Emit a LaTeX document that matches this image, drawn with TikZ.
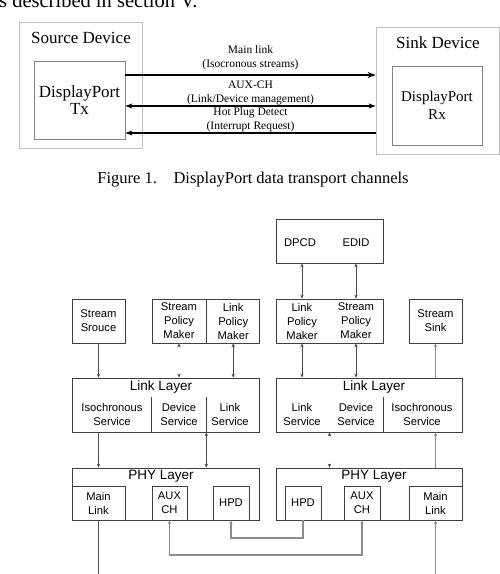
\documentclass[tikz,border=0pt]{standalone}
\usepackage{fontspec}
\setmainfont{Liberation Serif}
\setsansfont{Liberation Sans}
\usetikzlibrary{arrows.meta,positioning}

\tikzset{
  devbox/.style={draw=black!25, line width=0.8pt, inner sep=0pt},
  portbox/.style={draw=black!50, line width=0.8pt, inner sep=0pt, align=center},
  chan/.style={line width=1.2pt, >={Stealth[length=7pt,width=5pt]}},
  chanlbl/.style={font=\fontsize{11.5}{14}\selectfont, align=center, inner sep=0.5pt},
  blk/.style={draw=black!75, line width=0.7pt, inner sep=0pt, align=center,
              font=\sffamily\fontsize{11.2}{14}\selectfont},
  txt/.style={inner sep=0pt, align=center, font=\sffamily\fontsize{11.2}{14}\selectfont},
  ttl/.style={inner sep=0pt, font=\sffamily\fontsize{13.5}{16}\selectfont},
  link/.style={color=black!70, line width=0.7pt},
  glink/.style={color=black!45, line width=1.2pt}
}

\begin{document}
\begin{tikzpicture}[x=1pt,y=-1pt,>={Stealth[length=4pt,width=3.4pt]}]
\useasboundingbox (0,0) rectangle (500,574);

% text of the page above the figures
\node[anchor=base west, inner sep=0pt, font=\fontsize{20.5}{24}\selectfont] (prev) at (-1,7) {s described in section V.};

% Figure 1
\node[devbox, minimum width=123pt, minimum height=126pt] (srcdev) at (80.5,85) {};
\node[inner sep=0pt, font=\fontsize{17}{20}\selectfont] (srcname) at (81,38) {Source Device};
\node[portbox, minimum width=91pt, minimum height=78pt, font=\fontsize{17}{17}\selectfont] (tx) at (79.5,100) {DisplayPort\\Tx};

\node[devbox, minimum width=123pt, minimum height=127pt] (snkdev) at (437.5,90.5) {};
\node[inner sep=0pt, font=\fontsize{17}{20}\selectfont] (snkname) at (438,43) {Sink Device};
\node[portbox, minimum width=90pt, minimum height=79pt, font=\fontsize{15}{18}\selectfont] (rx) at (437,105.5) {DisplayPort\\Rx};

\coordinate (mainrow) at (0,75);
\coordinate (auxrow) at (0,106);
\coordinate (hpdrow) at (0,133);

\draw[chan, line width=2.3pt, ->, >={Stealth[length=8pt,width=6pt]}] (tx.east |- mainrow) -- node[chanlbl, above=3pt] {Main link\\(Isocronous streams)} (snkdev.west |- mainrow);
\draw[chan, <->] (tx.east |- auxrow) -- node[chanlbl, above=0pt] {AUX-CH\\(Link/Device management)} (snkdev.west |- auxrow);
\draw[chan, ->] (snkdev.west |- hpdrow) -- node[chanlbl, above=0pt] {Hot Plug Detect\\(Interrupt Request)} (tx.east |- hpdrow);

\node[font=\fontsize{16.5}{20}\selectfont] (cap1) at (253,180) {Figure 1.\quad DisplayPort data transport channels};

% Figure 2
\node[blk, minimum width=107pt, minimum height=44pt] (regs) at (329.5,241) {};
\node[txt] (dpcd) at (300,243) {DPCD};
\node[txt] (edid) at (356,243) {EDID};

\node[blk, minimum width=53pt, minimum height=44pt] (ssrc) at (98.5,321) {Stream\\Srouce};
\node[blk, minimum width=54pt, minimum height=44pt] (spm1) at (179,321) {Stream\\Policy\\Maker};
\node[blk, minimum width=53pt, minimum height=44pt, right=0pt of spm1] (lpm1) {Link\\Policy\\Maker};

\node[blk, minimum width=107pt, minimum height=44pt] (rpol) at (329.5,321) {};
\node[txt] (lpm2) at (302,321) {Link\\Policy\\Maker};
\node[txt] (spm2) at (356,321) {Stream\\Policy\\Maker};
\node[blk, minimum width=53pt, minimum height=44pt] (ssink) at (435.5,321) {Stream\\Sink};

% link layers
\node[blk, minimum width=187pt, minimum height=54pt] (llay1) at (165.5,405) {};
\node[ttl] (llt1) at (161,387) {Link Layer};
\node[txt] (iso1) at (112,414) {Isochronous\\Service};
\node[txt] (dev1) at (179,414) {Device\\Service};
\node[txt] (lnk1) at (230,414) {Link\\Service};

\node[blk, minimum width=186pt, minimum height=54pt] (llay2) at (369,405) {};
\node[ttl] (llt2) at (374,387) {Link Layer};
\node[txt] (lnk2) at (302,414) {Link\\Service};
\node[txt] (dev2) at (356,414) {Device\\Service};
\node[txt] (iso2) at (422,414) {Isochronous\\Service};

\coordinate (divtop) at (0,397);
\draw[black!75, line width=0.7pt] (spm1.west |- divtop) -- (spm1.west |- llay1.south);
\draw[black!75, line width=0.7pt] (spm1.east |- divtop) -- (spm1.east |- llay1.south);
\draw[black!75, line width=0.7pt] (rpol.east |- divtop) -- (rpol.east |- llay2.south);

% PHY layers
\node[blk, minimum width=187pt, minimum height=52pt] (phy1) at (165.5,494) {};
\node[ttl] (phyt1) at (161,476) {PHY Layer};
\node[blk, minimum width=53pt, minimum height=34pt] (main1) at (98.5,503) {Main\\Link};
\node[blk, minimum width=35pt, minimum height=34pt] (aux1) at (169.5,503) {AUX\\CH};
\node[blk, minimum width=36pt, minimum height=34pt] (hpd1) at (231,503) {HPD};

\node[blk, minimum width=186pt, minimum height=52pt] (phy2) at (369,494) {};
\node[ttl] (phyt2) at (374,476) {PHY Layer};
\node[blk, minimum width=36pt, minimum height=34pt] (hpd2) at (303,503) {HPD};
\node[blk, minimum width=36pt, minimum height=34pt] (aux2) at (362,503) {AUX\\CH};
\node[blk, minimum width=53pt, minimum height=34pt] (main2) at (435.5,503) {Main\\Link};

\coordinate (lbot) at (98.5,574);
\coordinate (rbot) at (435.5,574);
\coordinate (hpdlow) at (0,538);
\coordinate (auxlow) at (0,555);
\coordinate (st1) at (spm1 |- llay1.north);
\coordinate (st2) at (regs |- llay2.south);
\coordinate (st3) at (regs |- phy2.north);

\path (ssrc) edge[->, link] (ssrc |- llay1.north)
      (lpm1) edge[<->, link] (lpm1 |- llay1.north)
      (ssrc |- llay1.south) edge[->, link] (ssrc |- phy1.north)
      (lpm1.west |- llay1.south) edge[<->, link] (lpm1.west |- phy1.north)
      (main1) edge[link] (lbot);

\path (lpm2 |- regs.south) edge[<->, link] (lpm2 |- rpol.north)
      (spm2 |- regs.south) edge[<->, link] (spm2 |- rpol.north)
      (lpm2 |- rpol.south) edge[<->, link] (lpm2 |- llay2.north)
      (spm2 |- rpol.south) edge[<->, link] (spm2 |- llay2.north);

\path (ssink |- llay2.north) edge[->, glink] (ssink)
      (main2 |- phy2.north) edge[->, glink] (main2 |- llay2.south)
      (rbot) edge[->, glink] (main2);

% short stubs
\path ([yshift=-4pt]spm1.south) edge[->, link] (spm1.south)
      ([yshift=4pt]st1) edge[->, link] (st1)
      ([yshift=-4pt]st2) edge[->, link] (st2)
      ([yshift=4pt]st3) edge[->, link] (st3);

\draw[glink, <->] (aux1) -- (aux1 |- auxlow) -| (aux2);
\draw[glink, ->] (hpd2) -- (hpd2 |- hpdlow) -| (hpd1);

\end{tikzpicture}
\end{document}
